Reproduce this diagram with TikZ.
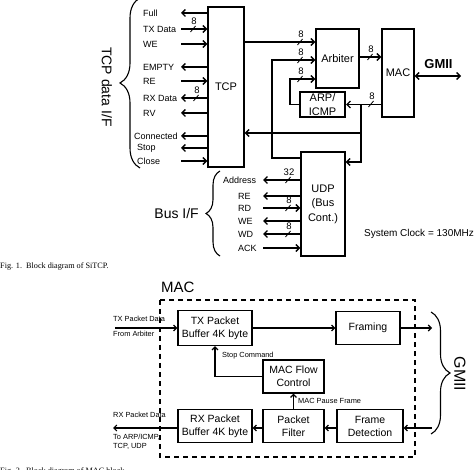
\documentclass[tikz,border=0pt]{standalone}
\usepackage{fontspec}
\setmainfont{Liberation Sans}
\newfontfamily\capfont{Liberation Serif}
\usetikzlibrary{arrows.meta,positioning,calc,decorations.pathreplacing}

% bus width mark: slash across the line and the width above it
\newcommand{\busmark}[3]{%
  \draw[line width=0.8pt] (#1-2.5,#2+3) -- (#1+2.5,#2-3);
  \node[busnum] (bus-#1-#2) at (#1+1,#2-7.5) {#3};}

\tikzset{
  blk/.style={draw, line width=1.3pt, align=center, inner sep=0pt,
    font=\fontsize{11}{14.5}\selectfont},
  sig/.style={line width=1.4pt, >={Straight Barb[length=3.5pt,width=7pt]}},
  siglbl/.style={anchor=west, inner sep=0pt, font=\fontsize{9}{10}\selectfont},
  busnum/.style={inner sep=0pt, font=\fontsize{9.5}{10}\selectfont},
  blk2/.style={draw, line width=1.4pt, align=center, inner sep=0pt,
    font=\fontsize{10.5}{13}\selectfont},
  sig2/.style={line width=1.1pt, ->, >={Straight Barb[length=3pt,width=6pt]}},
  note/.style={anchor=west, inner sep=0pt, align=left,
    font=\fontsize{7.4}{8.5}\selectfont},
  brc/.style={decorate, line width=1.1pt},
}

\begin{document}
\begin{tikzpicture}[x=1pt,y=-1pt]
  \useasboundingbox (0,0) rectangle (474,470);

  % Fig. 1 blocks
  \node[blk, minimum width=36, minimum height=160] (tcp) at (226,87) {TCP};
  \node[blk, minimum width=43, minimum height=59] (arb) at (337.5,58.5) {Arbiter};
  \node[blk, minimum width=32, minimum height=88] (mac) at (398,73) {MAC};
  \node[blk, line width=2pt, minimum width=45, minimum height=25] (arp) at (322.5,104.5) {ARP/\\ICMP};
  \node[blk, minimum width=44, minimum height=104] (udp) at (323,204) {UDP\\(Bus\\Cont.)};

  % TCP data interface
  \foreach \y/\txt/\dir/\lx [count=\i] in {13/Full/->/143, 29/TX Data/<-/143,
      44/WE/<-/143, 67/EMPTY/->/143, 81/RE/<-/143, 98/RX Data/->/143,
      113/RV/->/143, 136/Connected/->/134, 148/Stop/->/137, 161/Close/<-/137} {
    \node[siglbl] (tl\i) at (\lx,\y) {\txt};
    \coordinate (te\i) at (181,\y);
    \draw[sig,\dir] (tcp.west |- te\i) -- (te\i);
  }
  \busmark{193}{29}{8}
  \busmark{196}{98}{8}

  % Bus interface
  \foreach \y/\txt/\dir/\lx [count=\i] in {180/Address/->/223, 196/RE/->/238,
      208/RD/<-/238, 221/WE/->/238, 234/WD/->/238, 248/ACK/<-/238} {
    \node[siglbl] (ul\i) at (\lx,\y) {\txt};
    \coordinate (ue\i) at (263,\y);
    \draw[sig,\dir] (udp.west |- ue\i) -- (ue\i);
  }
  \busmark{288}{180}{32}
  \busmark{288}{208}{8}
  \busmark{288}{234}{8}

  % Arbiter inputs and MAC
  \draw[sig,->] (tcp.east |- 0,42) -- (arb.west |- 0,42);
  \draw[sig,->] (udp.west |- 0,158) -| (272,60) -- (arb.west |- 0,60);
  \draw[sig,->] (arp.west) -- ++(-9,0) |- (arb.west |- 0,79);
  \draw[sig,->] (arb.east |- 0,57) -- (mac.west |- 0,57);
  \draw[sig,->] (mac.west |- arp.east) -- (arp.east);
  \coordinate (br) at (361,0 |- arp.east);
  \draw[sig,->] (br) |- (udp.east |- 0,162);
  \draw[sig,->] (br |- 0,133) -- (tcp.east |- 0,133);
  \coordinate (gmiiend) at (461,76);
  \draw[sig,<->] (mac.east |- gmiiend) -- (gmiiend);
  \busmark{300}{42}{8}
  \busmark{300}{60}{8}
  \busmark{300}{79}{8}
  \busmark{370}{57}{8}
  \busmark{371}{104}{8}

  % braces and labels
  \draw[brc, decoration={brace, amplitude=20pt}] (140,168) -- (140,-2);
  \draw[brc, decoration={brace, amplitude=14pt}] (220,256) -- (220,171);
  \node[font=\fontsize{14}{16}\selectfont, rotate=-90] (tcpif) at (107,87) {TCP data I/F};
  \node[font=\fontsize{14}{16}\selectfont, anchor=east, inner sep=0pt] (busif) at (199,213) {Bus I/F};
  \node[font=\bfseries\fontsize{13}{15}\selectfont] (gmii1) at (438.5,64) {GMII};
  \node[font=\fontsize{10}{12}\selectfont] (clk) at (419,234) {System Clock = 130MHz};
  \node[anchor=base west, inner sep=0pt, font=\capfont\fontsize{8.2}{10}\selectfont] (cap1)
    at (0,268.5) {Fig. 1.\ \ Block diagram of SiTCP.};

  % Fig. 2 MAC block
  \draw[line width=1.3pt, dash pattern=on 5pt off 4pt] (160,300) rectangle (415,457);
  \node[font=\fontsize{15}{17}\selectfont, anchor=west, inner sep=0pt] (mact) at (161,287) {MAC};
  \node[blk2, minimum width=74, minimum height=35] (txb) at (215,328) {TX Packet\\Buffer 4K byte};
  \node[blk2, minimum width=64, minimum height=33] (frm) at (368,328) {Framing};
  \node[blk2, minimum width=61, minimum height=33] (mfc) at (293.5,376.5) {MAC Flow\\Control};
  \node[blk2, minimum width=74, minimum height=33] (rxb) at (215,426) {RX Packet\\Buffer 4K byte};
  \node[blk2, minimum width=61, minimum height=33] (pf) at (293.5,426) {Packet\\Filter};
  \node[blk2, minimum width=66, minimum height=33] (fd) at (370,426) {Frame\\Detection};

  \coordinate (txin) at (115,328);
  \coordinate (txout) at (432,328);
  \coordinate (rxin) at (432,428);
  \coordinate (rxout) at (113,428);
  \draw[sig2] (txin) -- (txb.west);
  \draw[sig2] (txb.east) -- (frm.west);
  \draw[sig2] (frm.east) -- (txout);
  \draw[sig2] (rxin) -- (fd.east |- rxin);
  \draw[sig2] (fd.west |- rxin) -- (pf.east |- rxin);
  \draw[sig2] (pf.west |- rxin) -- (rxb.east |- rxin);
  \draw[sig2] (rxb.west |- rxout) -- (rxout);
  \draw[sig2] (pf.north) -- (mfc.south);
  \draw[sig2] (mfc.west) -| (txb.south);

  \node[note] (txd) at (113,319) {TX Packet Data};
  \node[note] (frarb) at (113,334) {From Arbiter};
  \node[note] (rxd) at (113,415) {RX Packet Data};
  \node[note] (toarp) at (113,442) {To ARP/ICMP,\\TCP, UDP};
  \node[note] (stopc) at (222,356) {Stop Command};
  \node[note] (pause) at (298,401) {MAC Pause Frame};

  \draw[brc, decoration={brace, amplitude=19pt}] (431,312) -- (431,434);
  \node[font=\fontsize{16}{18}\selectfont, rotate=-90] (gmii2) at (460,374) {GMII};
  \node[anchor=base west, inner sep=0pt, font=\capfont\fontsize{8.2}{10}\selectfont] (cap2)
    at (0,473) {Fig. 2.\ \ Block diagram of MAC block.};
\end{tikzpicture}
\end{document}
